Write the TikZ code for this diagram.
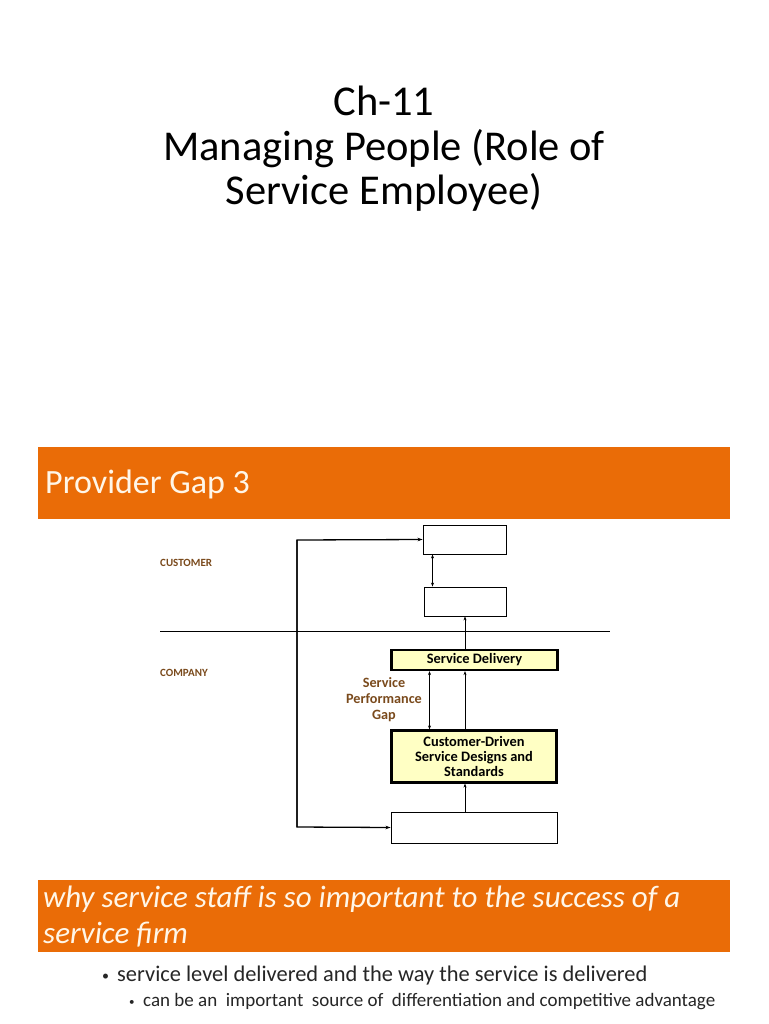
\documentclass[tikz,border=0pt]{standalone}
\usepackage{fontspec}
\setmainfont{Carlito}
\usetikzlibrary{arrows.meta}
\definecolor{banner}{HTML}{EA6C07}
\definecolor{bannertext}{HTML}{FFF6E8}
\definecolor{labelbrown}{HTML}{7A4A1C}
\definecolor{boxfill}{HTML}{FFFFC4}
\definecolor{bodytext}{HTML}{262626}
\begin{document}
\begin{tikzpicture}[x=1pt,y=-1pt,
  plainbox/.style={draw=black,line width=0.9pt,fill=white,inner sep=0pt},
  yellowbox/.style={draw=black,line width=2.2pt,fill=boxfill,inner sep=0pt,font=\bfseries\fontsize{14.4}{15.2}\selectfont,align=center},
  sidelabel/.style={anchor=base west,text=labelbrown,font=\bfseries\fontsize{11}{12}\selectfont,inner sep=0pt},
  thinarrow/.style={line width=0.5pt,-{Stealth[length=4pt,width=3pt]}},
  dblarrow/.style={line width=0.5pt,{Stealth[length=4pt,width=3pt]}-{Stealth[length=4pt,width=3pt]}},
  looparrow/.style={line width=1.3pt,-{Stealth[length=5pt,width=3.5pt]}}
]
\useasboundingbox (0,0) rectangle (768,1024);
\fill[white] (0,0) rectangle (768,1024);

% Title
\node[align=center,font=\fontsize{42.5}{44.5}\selectfont,text=black,inner sep=0pt] (title) at (384,149)
  {Ch-11\\Managing People (Role of\\Service Employee)};

% Banner 1
\fill[banner] (38,447) rectangle (730,519);
\node[anchor=west,text=bannertext,font=\fontsize{34}{38}\selectfont,inner sep=0pt] (b1) at (45,484) {Provider Gap 3};

% Labels
\node[sidelabel] (cust) at (160,566) {CUSTOMER};
\node[sidelabel] (comp) at (160,676) {COMPANY};

% Divider
\coordinate (dl) at (160,631);
\coordinate (dr) at (610,631);
\draw[line width=0.9pt] (dl) -- (dr);

% Boxes
\node[plainbox,minimum width=83pt,minimum height=29pt] (top) at (464.5,539.5) {};
\node[plainbox,minimum width=82pt,minimum height=29pt] (mid) at (465,601.5) {};
\node[yellowbox,minimum width=166pt,minimum height=20pt] (sd) at (474.5,660) {Service Delivery};
\node[yellowbox,minimum width=165pt,minimum height=52pt] (cd) at (474,756.5) {Customer-Driven\\Service Designs and\\Standards};
\node[plainbox,minimum width=166pt,minimum height=31pt] (bot) at (474,827.5) {};

% Gap label
\node[align=center,text=labelbrown,font=\bfseries\fontsize{14.2}{16}\selectfont,inner sep=0pt] (gap) at (384,700) {Service\\Performance\\Gap};

% Arrows
\draw[dblarrow] ([xshift=-32pt]top.south) -- ([xshift=-32pt]top.south |- mid.north);
\draw[thinarrow] (sd.north -| mid.south) -- (mid.south);
\draw[dblarrow] ([xshift=-45pt]sd.south) -- ([xshift=-45pt]sd.south |- cd.north);
\draw[thinarrow] (cd.north -| mid.south) -- (sd.south -| mid.south);
\draw[thinarrow] (bot.north -| mid.south) -- (cd.south -| mid.south);

% Loop
\coordinate (lt) at (297,540);
\coordinate (lb) at (297,827);
\draw[looparrow] (lb) -- (lt) -- (top.west);
\draw[looparrow] (lt) -- (lb) -- (bot.west);

% Banner 2
\fill[banner] (38,880) rectangle (730,952);
\node[anchor=base west,align=left,text=bannertext,font=\itshape\fontsize{31}{35.5}\selectfont,inner sep=0pt] (b2) at (43,943)
  {why service staff is so important to the success of a\\service firm};

% Bullets
\node[anchor=base west,text=bodytext,font=\fontsize{14}{16}\selectfont,inner sep=0pt] (dot1) at (102,980) {\textbullet};
\node[anchor=base west,text=bodytext,font=\fontsize{22.4}{24}\selectfont,inner sep=0pt] (bul1) at (117,981)
  {service level delivered and the way the service is delivered};
\node[anchor=base west,text=bodytext,font=\fontsize{11}{12}\selectfont,inner sep=0pt] (dot2) at (129,1005) {\textbullet};
\node[anchor=base west,text=bodytext,font=\fontsize{19}{20}\selectfont,inner sep=0pt] (bul2) at (143,1006)
  {can be an\ \ important\ \ source of\ \ differentiation and competitive advantage};
\end{tikzpicture}
\end{document}
